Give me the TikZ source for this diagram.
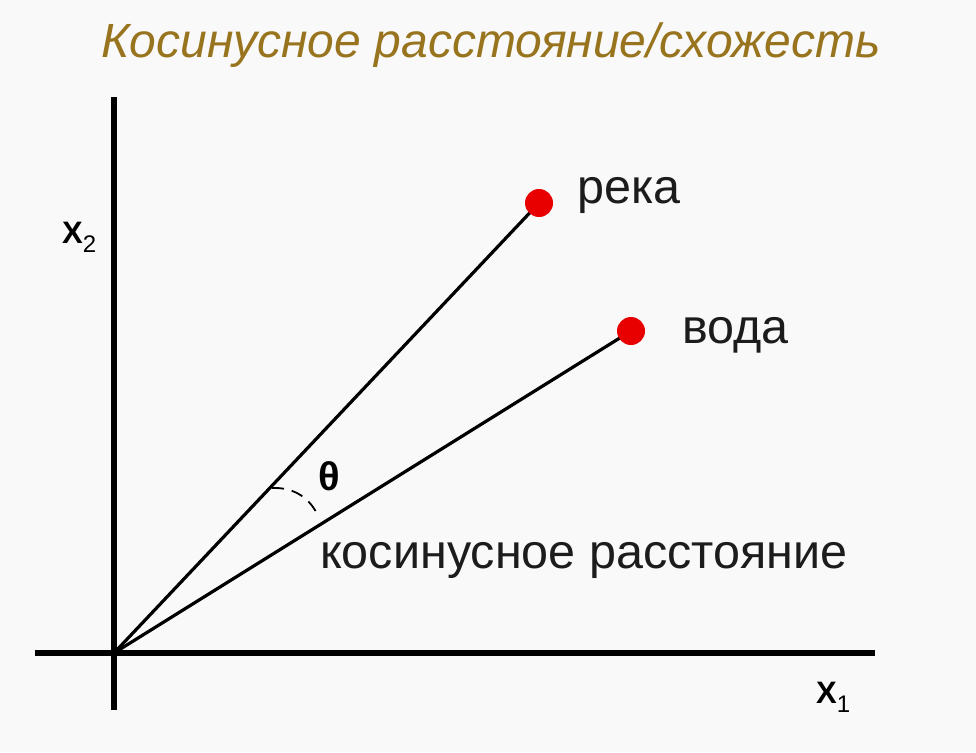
\documentclass[tikz,border=0pt]{standalone}
\usepackage{fontspec}
\setmainfont{Liberation Sans}
\definecolor{titlegold}{RGB}{152,116,30}
\definecolor{dotred}{RGB}{232,0,0}
\definecolor{wordgray}{RGB}{28,28,28}

\begin{document}
\begin{tikzpicture}[x=1pt,y=-1pt,
  axis line/.style={line width=5.5pt},
  vec line/.style={line width=3.2pt},
  dot node/.style={circle,fill=dotred,inner sep=0pt,minimum size=28pt},
  word node/.style={text=wordgray,inner sep=0pt,anchor=base west,font=\fontsize{48.5}{52}\selectfont},
  axis label/.style={inner sep=0pt,anchor=base west,font=\fontsize{31}{34}\selectfont}]

  \fill[gray!5] (0,0) rectangle (976,752);
  \useasboundingbox (0,0) rectangle (976,752);

  \node[text=titlegold,inner sep=0pt,anchor=base,font=\fontsize{48}{52}\selectfont\itshape]
    (title) at (491,58) {Косинусное расстояние/схожесть};

  % axes
  \coordinate (o) at (114,653);
  \coordinate (ytop) at (114,97);
  \coordinate (ybot) at (114,710);
  \coordinate (xleft) at (35,653);
  \coordinate (xright) at (875,653);
  \draw[axis line] (ytop) -- (ybot);
  \draw[axis line] (xleft) -- (xright);

  % vectors
  \coordinate (rekapt) at (539,203);
  \coordinate (vodapt) at (631,331);
  \path[vec line,line cap=round]
    (o) edge (rekapt)
    (o) edge (vodapt);
  \node[dot node] (reka) at (rekapt) {};
  \node[dot node] (voda) at (vodapt) {};

  % angle
  \coordinate (arcstart) at (272,488);
  \coordinate (arcend) at (319,518);
  \draw[line width=1.8pt,dash pattern=on 12pt off 8pt]
    (arcstart) to[bend left=35] (arcend);
  \node[font=\fontsize{40}{42}\selectfont\bfseries] (theta) at (329,476) {θ};

  \node[word node] (rekalabel) at (577,203) {река};
  \node[word node] (vodalabel) at (682,343) {вода};
  \node[word node] (cosdist) at (320,568) {косинусное расстояние};

  \node[axis label] (x2) at (62,243) {\textbf{X}\raisebox{-9pt}{\fontsize{24}{26}\selectfont 2}};
  \node[axis label] (x1) at (816,703) {\textbf{X}\raisebox{-9pt}{\fontsize{24}{26}\selectfont 1}};

\end{tikzpicture}
\end{document}
